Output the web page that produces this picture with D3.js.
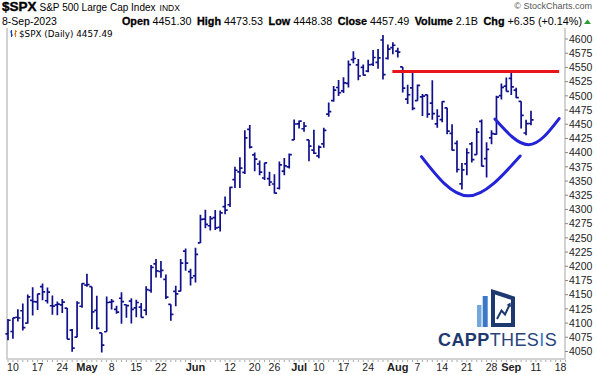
<!DOCTYPE html>
<html>
<head>
<meta charset="utf-8">
<script src="https://cdn.jsdelivr.net/npm/d3@7"></script>
<style>
  html, body { margin: 0; padding: 0; background: #fff; }
  svg { display: block; font-family: "Liberation Sans", Arial, sans-serif; }
</style>
</head>
<body>
<div id="chart"></div>
<script>
// daily bars, $SPX, 6-Apr-2023 .. 8-Sep-2023
var dates = ['2023-04-06','2023-04-10','2023-04-11','2023-04-12','2023-04-13','2023-04-14',
  '2023-04-17','2023-04-18','2023-04-19','2023-04-20','2023-04-21','2023-04-24','2023-04-25',
  '2023-04-26','2023-04-27','2023-04-28','2023-05-01','2023-05-02','2023-05-03','2023-05-04',
  '2023-05-05','2023-05-08','2023-05-09','2023-05-10','2023-05-11','2023-05-12','2023-05-15',
  '2023-05-16','2023-05-17','2023-05-18','2023-05-19','2023-05-22','2023-05-23','2023-05-24',
  '2023-05-25','2023-05-26','2023-05-30','2023-05-31','2023-06-01','2023-06-02','2023-06-05',
  '2023-06-06','2023-06-07','2023-06-08','2023-06-09','2023-06-12','2023-06-13','2023-06-14',
  '2023-06-15','2023-06-16','2023-06-20','2023-06-21','2023-06-22','2023-06-23','2023-06-26',
  '2023-06-27','2023-06-28','2023-06-29','2023-06-30','2023-07-03','2023-07-05','2023-07-06',
  '2023-07-07','2023-07-10','2023-07-11','2023-07-12','2023-07-13','2023-07-14','2023-07-17',
  '2023-07-18','2023-07-19','2023-07-20','2023-07-21','2023-07-24','2023-07-25','2023-07-26',
  '2023-07-27','2023-07-28','2023-07-31','2023-08-01','2023-08-02','2023-08-03','2023-08-04',
  '2023-08-07','2023-08-08','2023-08-09','2023-08-10','2023-08-11','2023-08-14','2023-08-15',
  '2023-08-16','2023-08-17','2023-08-18','2023-08-21','2023-08-22','2023-08-23','2023-08-24',
  '2023-08-25','2023-08-28','2023-08-29','2023-08-30','2023-08-31','2023-09-01','2023-09-05',
  '2023-09-06','2023-09-07','2023-09-08'];

var opens = [4081.15,4085.20,4110.29,4121.72,4100.04,4140.11,4137.17,4164.26,4139.33,4130.48,
  4132.14,4132.07,4126.43,4087.78,4075.29,4129.63,4166.79,4164.10,4122.25,4082.61,4084.73,
  4136.98,4124.25,4143.74,4132.24,4138.54,4126.65,4127.95,4122.85,4157.68,4204.15,4190.78,
  4176.80,4132.96,4155.71,4156.16,4226.71,4190.74,4183.03,4241.01,4282.99,4271.34,4285.47,
  4268.69,4304.88,4308.32,4352.61,4366.29,4365.33,4440.95,4396.11,4380.01,4355.40,4354.17,
  4344.84,4337.36,4367.48,4374.94,4422.44,4450.48,4442.04,4422.62,4404.54,4394.23,4415.55,
  4467.69,4491.50,4514.61,4508.86,4521.78,4563.87,4554.38,4550.16,4543.39,4555.19,4558.96,
  4598.26,4565.75,4584.82,4578.83,4550.93,4494.27,4513.96,4491.58,4498.03,4501.57,4487.16,
  4450.69,4458.13,4478.87,4433.79,4416.32,4344.88,4380.28,4415.33,4396.44,4455.16,4389.38,
  4426.03,4432.75,4500.34,4517.01,4530.60,4510.06,4490.35,4434.55,4451.30];

var highs = [4107.32,4109.50,4124.26,4134.37,4150.26,4163.19,4151.72,4169.48,4162.57,4148.57,
  4138.02,4142.41,4126.43,4089.67,4138.24,4170.06,4186.92,4164.10,4148.30,4082.61,4147.02,
  4142.30,4130.35,4154.28,4132.80,4143.74,4141.25,4135.54,4164.67,4202.20,4212.91,4209.22,
  4185.68,4132.96,4165.74,4212.87,4231.10,4195.44,4232.43,4290.67,4299.28,4288.33,4299.19,
  4298.01,4322.62,4340.13,4375.37,4391.82,4439.20,4448.47,4400.15,4386.22,4382.25,4366.55,
  4362.06,4384.42,4390.35,4398.39,4458.48,4456.46,4454.06,4422.62,4440.39,4412.60,4443.64,
  4488.34,4517.38,4527.76,4532.85,4562.30,4578.43,4564.74,4555.00,4563.41,4580.62,4582.47,
  4607.07,4590.16,4594.22,4584.62,4550.93,4519.49,4540.34,4519.84,4503.31,4502.44,4527.37,
  4476.23,4490.33,4478.87,4449.95,4421.17,4381.82,4407.55,4418.59,4443.18,4458.30,4418.46,
  4439.56,4500.14,4521.65,4532.26,4541.25,4514.29,4490.35,4457.81,4473.53];

var lows = [4069.84,4072.55,4102.61,4086.94,4099.40,4113.20,4123.18,4140.36,4134.49,4114.57,
  4113.86,4117.77,4071.38,4049.35,4075.29,4127.18,4164.12,4089.72,4088.86,4048.28,4084.73,
  4123.81,4116.65,4098.92,4109.29,4099.12,4110.27,4109.86,4113.62,4153.50,4180.20,4179.68,
  4142.54,4103.98,4129.73,4156.16,4192.18,4166.15,4171.64,4241.01,4266.82,4263.09,4263.96,
  4261.07,4291.70,4304.37,4337.85,4337.85,4362.60,4407.44,4367.19,4360.14,4351.82,4341.34,
  4328.08,4335.00,4360.22,4371.97,4422.44,4442.29,4436.61,4385.05,4397.40,4389.92,4408.46,
  4463.23,4489.36,4499.56,4504.90,4514.59,4557.48,4527.56,4535.79,4541.29,4552.42,4547.58,
  4528.56,4564.01,4573.14,4567.53,4505.75,4485.54,4474.55,4491.15,4464.39,4461.33,4457.92,
  4443.98,4453.44,4432.19,4403.55,4364.83,4335.31,4360.30,4382.77,4396.44,4375.55,4356.29,
  4414.98,4431.68,4493.59,4507.39,4501.35,4496.01,4442.38,4430.46,4448.38];

var closes = [4105.02,4109.11,4108.94,4091.95,4146.22,4137.64,4151.32,4154.87,4154.52,4129.79,
  4133.52,4137.04,4071.63,4055.99,4135.35,4169.48,4167.87,4119.58,4090.75,4061.22,4136.25,
  4138.12,4119.17,4137.64,4130.62,4124.08,4136.28,4109.90,4158.77,4198.05,4191.98,4192.63,
  4145.58,4115.24,4151.28,4205.45,4205.52,4179.83,4221.02,4282.37,4273.79,4283.85,4267.52,
  4293.93,4298.86,4338.93,4369.01,4372.59,4425.84,4409.59,4388.71,4365.69,4381.89,4348.33,
  4328.82,4378.41,4376.86,4396.44,4450.38,4455.59,4446.82,4411.59,4398.95,4409.53,4439.26,
  4472.16,4510.04,4505.42,4522.79,4554.98,4565.72,4534.87,4536.34,4554.64,4567.46,4566.75,
  4537.41,4582.23,4588.96,4576.73,4513.39,4501.89,4478.03,4518.44,4499.38,4467.71,4468.83,
  4464.05,4489.72,4437.86,4404.33,4370.36,4369.71,4399.77,4387.55,4436.01,4376.31,4405.71,
  4433.31,4497.63,4514.87,4507.66,4515.77,4496.83,4465.48,4451.14,4457.49];

// x axis labels
var tickDates  = ['2023-04-10','2023-04-17','2023-04-24','2023-05-01','2023-05-08','2023-05-15',
  '2023-05-22','2023-06-01','2023-06-12','2023-06-20','2023-06-26','2023-07-03','2023-07-10',
  '2023-07-17','2023-07-24','2023-08-01','2023-08-07','2023-08-14','2023-08-21','2023-08-28',
  '2023-09-01','2023-09-11','2023-09-18'];
var tickLabels = ['10','17','24','May','8','15','22','Jun','12','20','26','Jul','10','17','24',
  'Aug','7','14','21','28','Sep','11','18'];
var monthLabels = ['May','Jun','Jul','Aug','Sep'];

var priceTicks = d3.range(4050, 4601, 25);

// annotations (x in trading-day index, y in price)
var resistance = {from: 77.9, to: 111.7, price: 4543};
var bigCup   = [[83.8, 4393], [93.3, 4324], [103.8, 4394]];
var smallCup = [[98.7, 4459], [105.5, 4414], [111.7, 4460]];

var W = 597, H = 375;
var plot = {left: 7, right: 565, top: 28, bottom: 359};
var barColor = '#10108c';

function tradingIndex(iso) {
  var i = dates.indexOf(iso);
  if (i >= 0) return i;
  // future dates: count weekdays after the last bar
  var d = new Date(dates[dates.length - 1] + 'T00:00:00Z');
  var t = new Date(iso + 'T00:00:00Z');
  var n = dates.length - 1;
  while (d < t) {
    d.setUTCDate(d.getUTCDate() + 1);
    var wd = d.getUTCDay();
    if (wd !== 0 && wd !== 6) n++;
  }
  return n;
}

var x = d3.scaleLinear().domain([0, dates.length - 1]).range([8, 531]);
var y = d3.scaleLinear().domain([4050, 4600]).range([351.5, 39]);

var svg = d3.select('#chart').append('svg')
    .attr('width', W)
    .attr('height', H);

// ---- header ----
var h1 = svg.append('text').attr('x', 2).attr('y', 11).attr('fill', '#000');
h1.append('tspan').attr('font-size', 13.5).attr('font-weight', 'bold').attr('stroke', '#000').attr('stroke-width', 0.4).text('$SPX');
h1.append('tspan').attr('font-size', 10).attr('dx', 3).text('S&P 500 Large Cap Index');
h1.append('tspan').attr('font-size', 8.5).attr('dx', 4).text('INDX');

svg.append('text')
    .attr('x', 592).attr('y', 9)
    .attr('text-anchor', 'end')
    .attr('font-size', 9)
    .attr('fill', '#555')
    .text('\u00a9 StockCharts.com');

svg.append('text')
    .attr('x', 2).attr('y', 24.5)
    .attr('font-size', 10.5)
    .text('8-Sep-2023');

var stats = [['Open', '4451.30'], ['High', '4473.53'], ['Low', '4448.38'], ['Close', '4457.49'],
  ['Volume', '2.1B'], ['Chg', '+6.35 (+0.14%)']];
var h2 = svg.append('text')
    .attr('x', 582).attr('y', 24.5)
    .attr('text-anchor', 'end')
    .attr('font-size', 10.8);
stats.forEach(function(s, i) {
  h2.append('tspan').attr('font-weight', 'bold').attr('stroke', '#000').attr('stroke-width', 0.3)
      .attr('dx', i ? 5.5 : 0).text(s[0]);
  h2.append('tspan').attr('dx', 3).text(s[1]);
});
svg.append('path')
    .attr('d', 'M584,24L591,24L587.5,19.5Z')
    .attr('fill', '#2e9a36');

// ---- plot frame ----
svg.append('path')
    .attr('d', 'M' + plot.left + ',' + plot.top + 'V' + plot.bottom + 'H' + plot.right + 'V' + plot.top)
    .attr('fill', 'none')
    .attr('stroke', '#c4c4c4')
    .attr('stroke-width', 1.5);

// legend inside the plot
var icon = svg.append('g').attr('transform', 'translate(10,29)');
icon.append('path').attr('d', 'M1.5,1V8M0,3H1.5M1.5,6H3').attr('stroke', '#1a3fc8').attr('stroke-width', 1.2);
icon.append('path').attr('d', 'M5.5,1V8M4,5H5.5M5.5,2.5H7').attr('stroke', '#e07a10').attr('stroke-width', 1.2);
svg.append('text')
    .attr('x', 19).attr('y', 36.5)
    .attr('font-family', '"DejaVu Sans", Verdana, sans-serif')
    .attr('font-size', 8.8)
    .text('$SPX (Daily) 4457.49');

// ---- y axis on the right ----
var yAxis = svg.append('g');
yAxis.selectAll('line').data(priceTicks).enter().append('line')
    .attr('x1', plot.right).attr('x2', plot.right + 3)
    .attr('y1', function(d) { return y(d); })
    .attr('y2', function(d) { return y(d); })
    .attr('stroke', '#888');
yAxis.selectAll('text').data(priceTicks).enter().append('text')
    .attr('x', plot.right + 4)
    .attr('y', function(d) { return y(d) + 3.8; })
    .attr('font-size', 10.5)
    .attr('fill', '#222')
    .text(function(d) { return d; });

// ---- x axis ----
var dayIdx = d3.range(0, tradingIndex('2023-09-18') + 2);
svg.append('g').selectAll('line').data(dayIdx).enter().append('line')
    .attr('x1', function(d) { return x(d); })
    .attr('x2', function(d) { return x(d); })
    .attr('y1', plot.bottom + 1).attr('y2', plot.bottom + 3)
    .attr('stroke', '#aaa');

var xt = tickDates.map(function(d, i) { return {i: tradingIndex(d), label: tickLabels[i]}; });
svg.append('g').selectAll('text').data(xt).enter().append('text')
    .attr('x', function(d) { return x(d.i); })
    .attr('y', 371)
    .attr('text-anchor', 'middle')
    .attr('font-size', function(d) { return monthLabels.indexOf(d.label) >= 0 ? 11 : 10.5; })
    .attr('font-weight', function(d) { return monthLabels.indexOf(d.label) >= 0 ? 'bold' : 'normal'; })
    .attr('fill', '#222')
    .text(function(d) { return d.label; });

// ---- OHLC bars ----
var bars = svg.append('g')
    .attr('stroke', barColor)
    .attr('stroke-width', 1.7)
    .selectAll('path').data(dates).enter().append('path')
    .attr('fill', 'none')
    .attr('d', function(d, i) {
      var cx = x(i);
      return 'M' + cx + ',' + y(highs[i]) + 'V' + y(lows[i]) +
             'M' + (cx - 2.6) + ',' + y(opens[i]) + 'H' + cx +
             'M' + cx + ',' + y(closes[i]) + 'H' + (cx + 2.6);
    });

// ---- annotations ----
svg.append('line')
    .attr('x1', x(resistance.from)).attr('x2', x(resistance.to))
    .attr('y1', y(resistance.price)).attr('y2', y(resistance.price))
    .attr('stroke', '#e8141c')
    .attr('stroke-width', 3);

var cupLine = d3.line()
    .x(function(d) { return x(d[0]); })
    .y(function(d) { return y(d[1]); })
    .curve(d3.curveNatural);

[bigCup, smallCup].forEach(function(c) {
  svg.append('path')
      .attr('d', cupLine(c))
      .attr('fill', 'none')
      .attr('stroke', '#2323d8')
      .attr('stroke-width', 3)
      .attr('stroke-linecap', 'round');
});

// ---- CAPPTHESIS logo ----
var logo = svg.append('g');
logo.append('rect').attr('x', 477).attr('y', 305).attr('width', 4.5).attr('height', 22).attr('fill', '#74a7dc');
logo.append('rect').attr('x', 482.7).attr('y', 296).attr('width', 5).attr('height', 31).attr('fill', '#3b78c8');
logo.append('path').attr('d', 'M491,289L515,296.7V327H491Z').attr('fill', '#1d3970');
logo.append('path').attr('d', 'M495,294.6L511,299.7V323H495Z').attr('fill', '#fff');
logo.append('path').attr('d', 'M497,319L501.5,310.5L505,314.5L509.5,305')
    .attr('fill', 'none').attr('stroke', '#1d3970').attr('stroke-width', 2);
logo.append('path').attr('d', 'M506.5,305L510.5,302.5L511,307Z').attr('fill', '#1d3970');

var lt = logo.append('text')
    .attr('x', 438).attr('y', 346)
    .attr('font-size', 18)
    .attr('letter-spacing', 0.4);
lt.append('tspan').attr('font-weight', 'bold').attr('fill', '#1d3970').text('CAPP');
lt.append('tspan').attr('fill', '#27457c').text('THES');
lt.append('tspan').attr('fill', '#3b78c8').text('I');
lt.append('tspan').attr('fill', '#27457c').text('S');
</script>
</body>
</html>
